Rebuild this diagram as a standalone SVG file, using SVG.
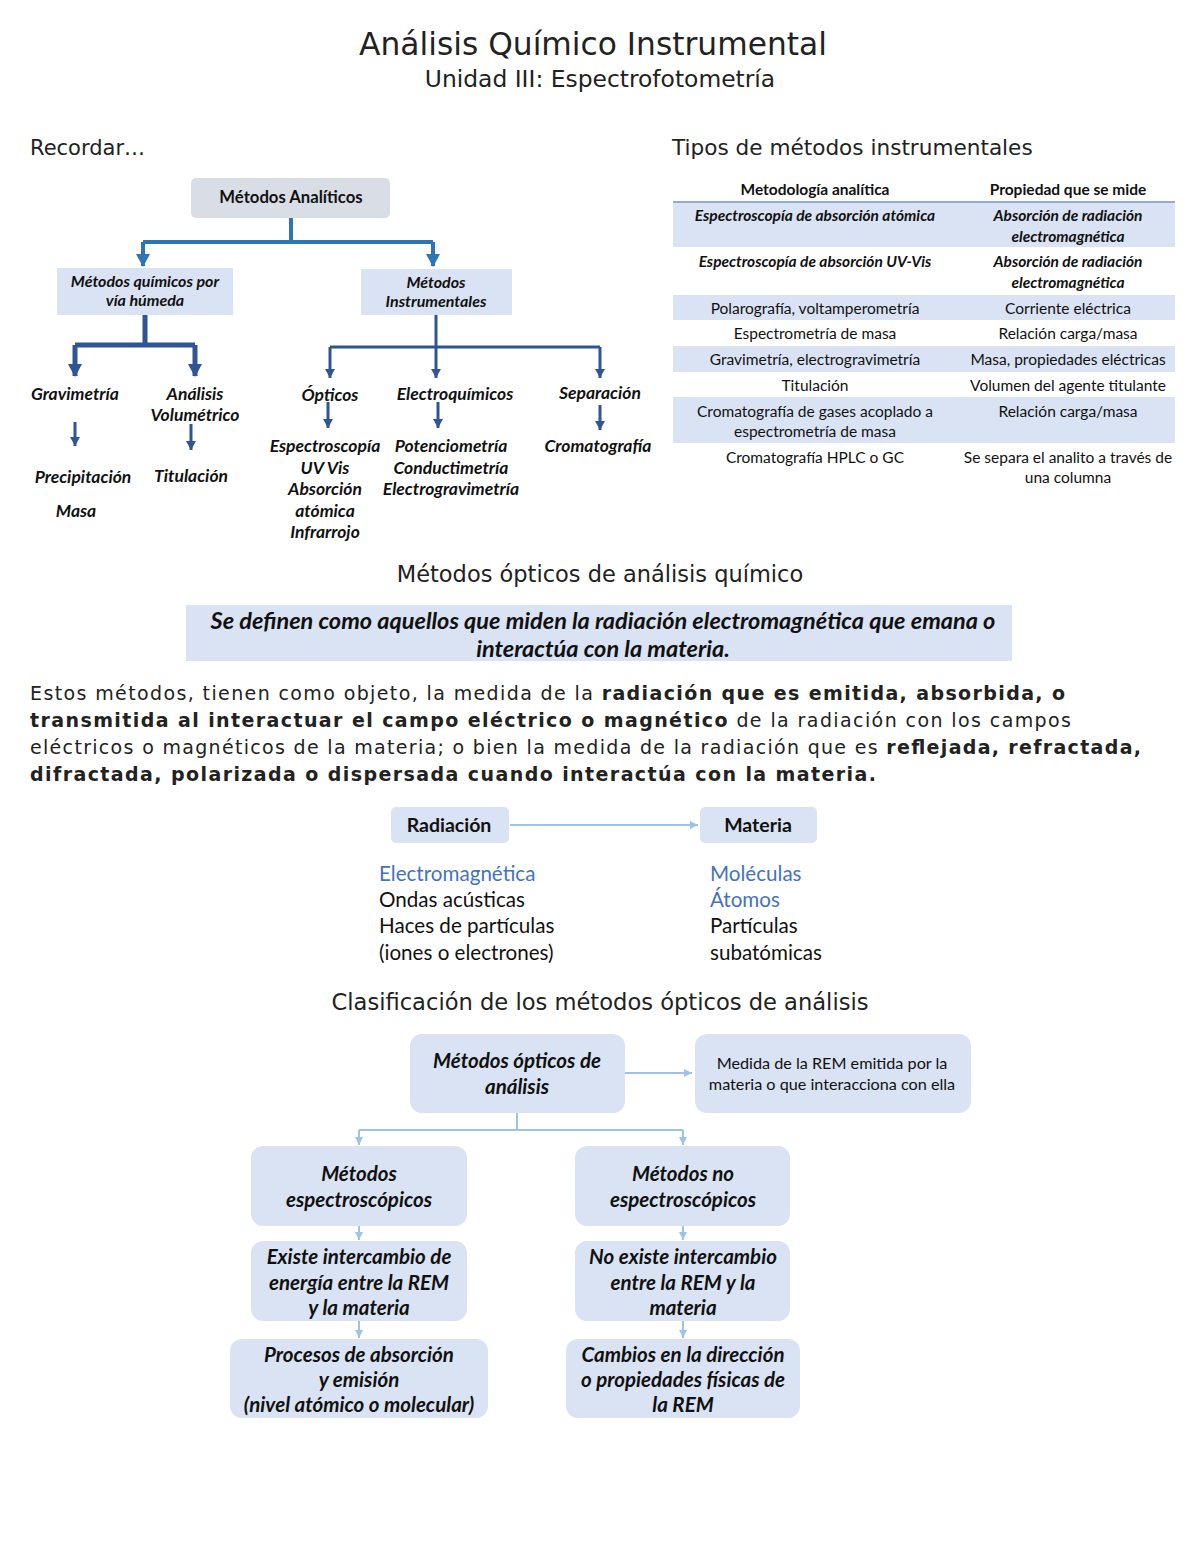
<svg xmlns="http://www.w3.org/2000/svg" width="1200" height="1553" viewBox="0 0 1200 1553">
<defs>
<style>
.dj{font-family:"DejaVu Sans",sans-serif;fill:#222}
.cb{font-family:Lato,"Open Sans",sans-serif;fill:#111}
.bi{font-weight:bold;font-style:italic}
.b{font-weight:bold}
.c{text-anchor:middle}
.lb{fill:#dae3f3}
.gb{fill:#d9dde6}
.tr1{fill:none;stroke:#2e75b6;stroke-width:4}
.tr2{fill:none;stroke:#2f5597;stroke-width:5}
.tr3{fill:none;stroke:#2f5597;stroke-width:3}
.lt{fill:none;stroke:#9dc3e6;stroke-width:2}
.blue{fill:#4472c4}
</style>
<marker id="ah1" markerUnits="userSpaceOnUse" markerWidth="16" markerHeight="16" refX="8" refY="14" viewBox="0 0 16 16"><path d="M1,2 L15,2 L8,15 Z" fill="#2e75b6"/></marker>
<marker id="ah2" markerUnits="userSpaceOnUse" markerWidth="16" markerHeight="16" refX="8" refY="14" viewBox="0 0 16 16"><path d="M1,2 L15,2 L8,15 Z" fill="#2f5597"/></marker>
<marker id="ah3" markerUnits="userSpaceOnUse" markerWidth="12" markerHeight="12" refX="6" refY="11" viewBox="0 0 12 12"><path d="M1,2 L11,2 L6,11 Z" fill="#2f5597"/></marker>
<marker id="ahl" markerUnits="userSpaceOnUse" markerWidth="10" markerHeight="10" refX="9" refY="5" orient="auto" viewBox="0 0 10 10"><path d="M1,1 L9,5 L1,9 Z" fill="#9dc3e6"/></marker>
</defs>
<rect width="1200" height="1553" fill="#fff"/>

<text class="dj c" x="593" y="55" font-size="31.3">Análisis Químico Instrumental</text>
<text class="dj c" x="600" y="87" font-size="23.4">Unidad III: Espectrofotometría</text>
<text class="dj" x="30" y="155" font-size="21">Recordar…</text>
<text class="dj" x="672" y="155" font-size="21.6">Tipos de métodos instrumentales</text>

<g id="tree-connectors">
<path class="tr1" d="M291,218 V242 M143,242 H433"/>
<path class="tr1" d="M143,242 V266" marker-end="url(#ah1)"/>
<path class="tr1" d="M433,242 V266" marker-end="url(#ah1)"/>
<path class="tr2" d="M145,315 V345 M75,345 H195"/>
<path class="tr2" d="M75,345 V376" marker-end="url(#ah2)"/>
<path class="tr2" d="M195,345 V376" marker-end="url(#ah2)"/>
<path class="tr3" d="M330,347 H600 M436,315 V347"/>
<path class="tr3" d="M330,347 V378" marker-end="url(#ah3)"/>
<path class="tr3" d="M436,347 V378" marker-end="url(#ah3)"/>
<path class="tr3" d="M600,347 V378" marker-end="url(#ah3)"/>
<path class="tr3" d="M75,422 V446" marker-end="url(#ah3)"/>
<path class="tr3" d="M191,424 V450" marker-end="url(#ah3)"/>
<path class="tr3" d="M328,402 V428" marker-end="url(#ah3)"/>
<path class="tr3" d="M438,402 V428" marker-end="url(#ah3)"/>
<path class="tr3" d="M600,405 V430" marker-end="url(#ah3)"/>
</g>

<g id="n-analiticos"><rect class="gb" x="191" y="178" width="199" height="40" rx="5"/><text class="cb b c" x="291" y="203" font-size="16.7">Métodos Analíticos</text></g>
<g id="n-humeda"><rect class="lb" x="57" y="268" width="176" height="47"/><text class="cb bi c" font-size="16"><tspan x="145" y="287">Métodos químicos por</tspan><tspan x="145" y="306">vía húmeda</tspan></text></g>
<g id="n-instr"><rect class="lb" x="361" y="269" width="151" height="46"/><text class="cb bi c" font-size="16"><tspan x="436" y="288">Métodos</tspan><tspan x="436" y="307">Instrumentales</tspan></text></g>
<g class="cb bi c" font-size="17.5">
<g id="n-grav"><text x="75" y="400">Gravimetría</text></g>
<g id="n-vol"><text><tspan x="195" y="400">Análisis</tspan><tspan x="195" y="421">Volumétrico</tspan></text></g>
<g id="n-opt"><text x="330" y="401">Ópticos</text></g>
<g id="n-electro"><text x="455" y="400">Electroquímicos</text></g>
<g id="n-sep"><text x="600" y="399">Separación</text></g>
<g id="n-prec"><text><tspan x="83" y="483">Precipitación</tspan><tspan x="76" y="517">Masa</tspan></text></g>
<g id="n-tit"><text x="191" y="482">Titulación</text></g>
<g id="n-espec"><text><tspan x="325" y="452">Espectroscopía</tspan><tspan x="325" y="474">UV Vis</tspan><tspan x="325" y="495">Absorción</tspan><tspan x="325" y="517">atómica</tspan><tspan x="325" y="538">Infrarrojo</tspan></text></g>
<g id="n-pot"><text><tspan x="451" y="452">Potenciometría</tspan><tspan x="451" y="474">Conductimetría</tspan><tspan x="451" y="495">Electrogravimetría</tspan></text></g>
<g id="n-crom"><text x="598" y="452">Cromatografía</text></g>
</g>

<g id="table">
<rect class="lb" x="673" y="203" width="502" height="44"/>
<rect class="lb" x="673" y="295" width="502" height="25"/>
<rect class="lb" x="673" y="346" width="502" height="26"/>
<rect class="lb" x="673" y="397" width="502" height="46"/>
<line x1="673" y1="202" x2="1175" y2="202" stroke="#6f8fc7" stroke-width="1.5"/>
<g class="cb c" font-size="15.5">
<text class="b" x="815" y="195">Metodología analítica</text>
<text class="b" x="1068" y="195">Propiedad que se mide</text>
<text class="bi" x="815" y="221">Espectroscopía de absorción atómica</text>
<text class="bi" x="1068" y="221">Absorción de radiación</text>
<text class="bi" x="1068" y="242">electromagnética</text>
<text class="bi" x="815" y="267">Espectroscopía de absorción  UV-Vis</text>
<text class="bi" x="1068" y="267">Absorción de radiación</text>
<text class="bi" x="1068" y="288">electromagnética</text>
<text x="815" y="314">Polarografía, voltamperometría</text>
<text x="1068" y="314">Corriente eléctrica</text>
<text x="815" y="339">Espectrometría de masa</text>
<text x="1068" y="339">Relación carga/masa</text>
<text x="815" y="365">Gravimetría, electrogravimetría</text>
<text x="1068" y="365">Masa, propiedades eléctricas</text>
<text x="815" y="391">Titulación</text>
<text x="1068" y="391">Volumen del agente titulante</text>
<text x="815" y="417">Cromatografía de gases acoplado a</text>
<text x="815" y="437">espectrometría de masa</text>
<text x="1068" y="417">Relación carga/masa</text>
<text x="815" y="463">Cromatografía HPLC o GC</text>
<text x="1068" y="463">Se separa el analito a través de</text>
<text x="1068" y="483">una columna</text>
</g>
</g>

<text class="dj c" x="600" y="582" font-size="22.5" fill="#333">Métodos ópticos de análisis químico</text>

<g id="definicion">
<rect class="lb" x="186" y="605" width="826" height="56"/>
<text class="cb bi c" font-size="23.5"><tspan x="603" y="629">Se definen como aquellos que miden la radiación electromagnética que emana o</tspan><tspan x="603" y="657">interactúa con la materia.</tspan></text>
</g>

<g class="dj" font-size="19">
<text x="30" y="700" textLength="1035" lengthAdjust="spacing">Estos métodos, tienen como objeto, la medida de la <tspan class="b">radiación que es emitida, absorbida, o</tspan></text>
<text x="30" y="727" textLength="1041" lengthAdjust="spacing"><tspan class="b">transmitida al interactuar el campo eléctrico o magnético</tspan> de la radiación con los campos</text>
<text x="30" y="754" textLength="1111" lengthAdjust="spacing">eléctricos o magnéticos de la materia; o bien la medida de la radiación que es <tspan class="b">reflejada, refractada,</tspan></text>
<text x="30" y="781" textLength="846" lengthAdjust="spacing" class="b">difractada, polarizada o dispersada cuando interactúa con la materia.</text>
</g>

<g id="connectors-rm">
<path class="lt" d="M510,825 H698" marker-end="url(#ahl)"/>
</g>
<g id="n-radiacion"><rect class="lb" x="391" y="807" width="118" height="36" rx="5"/><text class="cb b c" x="449" y="832" font-size="19.5">Radiación</text></g>
<g id="n-materia"><rect class="lb" x="700" y="807" width="117" height="36" rx="5"/><text class="cb b c" x="758" y="832" font-size="19.5">Materia</text></g>
<g class="cb" font-size="20.6">
<text x="379" y="881" class="blue">Electromagnética</text>
<text x="379" y="907">Ondas acústicas</text>
<text x="379" y="933">Haces de partículas</text>
<text x="379" y="960">(iones o electrones)</text>
<text x="710" y="881" class="blue">Moléculas</text>
<text x="710" y="907" class="blue">Átomos</text>
<text x="710" y="933">Partículas</text>
<text x="710" y="960">subatómicas</text>
</g>

<text class="dj c" x="600" y="1010" font-size="22.6" fill="#333">Clasificación de los métodos ópticos de análisis</text>

<g id="flow-connectors">
<path class="lt" d="M625,1073 H692" marker-end="url(#ahl)"/>
<path class="lt" d="M517,1113 V1130 M359,1130 H683"/>
<path class="lt" d="M359,1130 V1145" marker-end="url(#ahl)"/>
<path class="lt" d="M683,1130 V1145" marker-end="url(#ahl)"/>
<path class="lt" d="M359,1226 V1240" marker-end="url(#ahl)"/>
<path class="lt" d="M683,1226 V1240" marker-end="url(#ahl)"/>
<path class="lt" d="M359,1321 V1338" marker-end="url(#ahl)"/>
<path class="lt" d="M683,1321 V1338" marker-end="url(#ahl)"/>
</g>
<g class="cb bi c" font-size="20.5">
<g id="f-opticos"><rect class="lb" x="410" y="1034" width="215" height="79" rx="12"/><text><tspan x="517" y="1068">Métodos ópticos de</tspan><tspan x="517" y="1094">análisis</tspan></text></g>
<g id="f-espec"><rect class="lb" x="251" y="1146" width="216" height="80" rx="12"/><text><tspan x="359" y="1181">Métodos</tspan><tspan x="359" y="1207">espectroscópicos</tspan></text></g>
<g id="f-noespec"><rect class="lb" x="575" y="1146" width="215" height="80" rx="12"/><text><tspan x="683" y="1181">Métodos no</tspan><tspan x="683" y="1207">espectroscópicos</tspan></text></g>
<g id="f-existe"><rect class="lb" x="251" y="1241" width="216" height="80" rx="12"/><text><tspan x="359" y="1264">Existe intercambio de</tspan><tspan x="359" y="1290">energía entre la REM</tspan><tspan x="359" y="1315">y la materia</tspan></text></g>
<g id="f-noexiste"><rect class="lb" x="575" y="1241" width="215" height="80" rx="12"/><text><tspan x="683" y="1264">No existe intercambio</tspan><tspan x="683" y="1290">entre la REM y la</tspan><tspan x="683" y="1315">materia</tspan></text></g>
<g id="f-procesos"><rect class="lb" x="230" y="1339" width="258" height="79" rx="12"/><text><tspan x="359" y="1362">Procesos de absorción</tspan><tspan x="359" y="1387">y emisión</tspan><tspan x="359" y="1412">(nivel atómico o molecular)</tspan></text></g>
<g id="f-cambios"><rect class="lb" x="566" y="1339" width="234" height="79" rx="12"/><text><tspan x="683" y="1362">Cambios en la dirección</tspan><tspan x="683" y="1387">o propiedades físicas de</tspan><tspan x="683" y="1412">la REM</tspan></text></g>
</g>
<g id="f-medida"><rect class="lb" x="695" y="1034" width="276" height="79" rx="12"/><text class="cb c" font-size="16.2"><tspan x="832" y="1069">Medida de la REM emitida por la</tspan><tspan x="832" y="1090">materia o que interacciona con ella</tspan></text></g>
</svg>
